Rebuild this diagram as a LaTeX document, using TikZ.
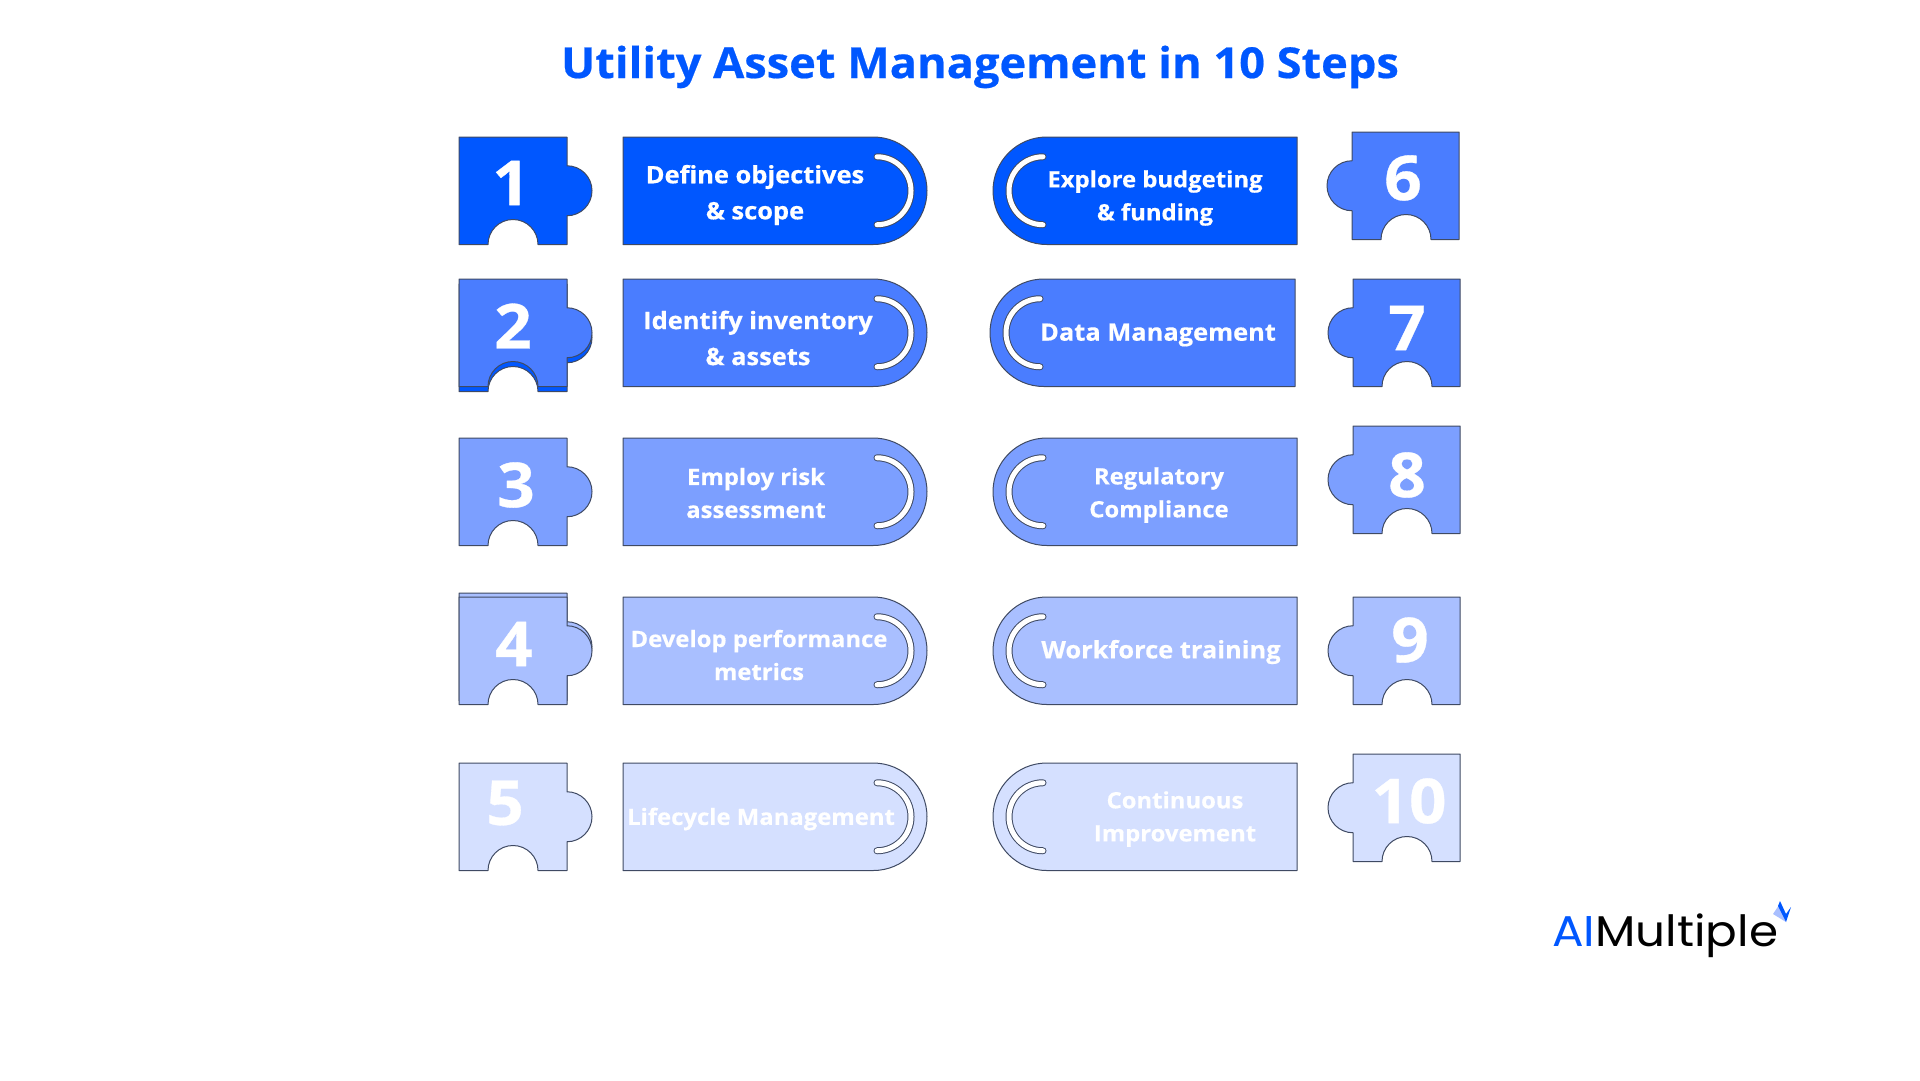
\documentclass[tikz,border=0pt]{standalone}
\usepackage{fontspec}
\setmainfont{Open Sans}[BoldFeatures={FakeStretch=1.06,FakeBold=0.5}]
\newfontfamily\logofont{Poppins}[FakeStretch=1.09]
\definecolor{stepa}{HTML}{0057FF}
\definecolor{stepb}{HTML}{4A7DFF}
\definecolor{stepc}{HTML}{7C9FFF}
\definecolor{stepd}{HTML}{A9BFFF}
\definecolor{stepe}{HTML}{D5E0FF}
\definecolor{edgegray}{HTML}{3F4A63}
\tikzset{
  piece/.style={draw=edgegray,line width=1pt,line join=round},
  steptext/.style={text=white,font=\bfseries\fontsize{22.5}{33}\selectfont,align=center,inner sep=0pt},
  steptextbig/.style={text=white,font=\bfseries\fontsize{24}{36}\selectfont,align=center,inner sep=0pt},
  stepnum/.style={text=white,font=\bfseries\fontsize{62}{62}\selectfont,inner sep=0pt},
}
% puzzle pieces: left edge, top edge, colour
\newcommand{\pieceright}[3]{
  \draw[piece,fill=#3] (#1,#2) -- ++(108,0) -- ++(0,28.75) arc (-90:90:25 and 25) -- (#1+108,#2+107.5)
    -- (#1+79,#2+107.5) arc (0:180:25 and -25) -- (#1,#2+107.5) -- cycle;
}
\newcommand{\pieceleft}[3]{
  \draw[piece,fill=#3] (#1,#2) -- ++(107,0) -- (#1+107,#2+107.5) -- (#1+79,#2+107.5)
    arc (0:180:25 and -25) -- (#1,#2+107.5) -- (#1,#2+78.75) arc (270:90:25 and -25) -- cycle;
}
% label bars: left edge, right edge, top edge, colour
\newcommand{\barright}[4]{
  \draw[piece,fill=#4] (#1,#3) -- (#2-53.75,#3) arc (90:-90:53.75 and -53.75) -- (#1,#3+107.5) -- cycle;
  \draw[edgegray,line width=7pt,line cap=round] (#2-50,#3+19.75) arc (90:-90:34 and -34);
  \draw[white,line width=5pt,line cap=round] (#2-50,#3+19.75) arc (90:-90:34 and -34);
}
\newcommand{\barleft}[4]{
  \draw[piece,fill=#4] (#2,#3) -- (#1+53.75,#3) arc (90:270:53.75 and -53.75) -- (#2,#3+107.5) -- cycle;
  \draw[edgegray,line width=7pt,line cap=round] (#1+50,#3+19.75) arc (90:270:34 and -34);
  \draw[white,line width=5pt,line cap=round] (#1+50,#3+19.75) arc (90:270:34 and -34);
}
\begin{document}
\begin{tikzpicture}[x=1pt,y=-1pt]
  \useasboundingbox (0,0) rectangle (1920,1080);
  \node[anchor=base,text=stepa,font=\bfseries\fontsize{42.6}{42.6}\selectfont,inner sep=0pt] (title) at (980,78) {Utility Asset Management in 10 Steps};
  % left column
  \pieceright{459}{137}{stepa}
  \pieceright{459}{284}{stepa}
  \pieceright{459}{279}{stepb}
  \pieceright{459}{438}{stepc}
  \pieceright{459}{593}{stepd}
  \pieceright{459}{597}{stepd}
  \pieceright{459}{763}{stepe}
  \barright{623}{927}{137}{stepa}
  \barright{623}{927}{279}{stepb}
  \barright{623}{927}{438}{stepc}
  \barright{623}{927}{597}{stepd}
  \barright{623}{927}{763}{stepe}
  \node[stepnum] (numa) at (511,183) {1};
  \node[stepnum] (numb) at (513,326) {2};
  \node[stepnum] (numc) at (516,485) {3};
  \node[stepnum] (numd) at (514,644) {4};
  \node[stepnum] (nume) at (505,803) {5};
  \node[steptextbig] (laba) at (755,195) {Define objectives\\\& scope};
  \node[steptextbig] (labb) at (758,338) {Identify inventory\\\& assets};
  \node[steptext] (labc) at (756,493) {Employ risk\\assessment};
  \node[steptext] (labd) at (759,655) {Develop performance\\metrics};
  \node[steptext] (labe) at (761,819) {Lifecycle Management};
  % right column
  \pieceleft{1352}{132}{stepb}
  \pieceleft{1353}{279}{stepb}
  \pieceleft{1353}{426}{stepc}
  \pieceleft{1353}{597}{stepd}
  \pieceleft{1353}{754}{stepe}
  \barleft{993}{1297}{137}{stepa}
  \barleft{990}{1295}{279}{stepb}
  \barleft{993}{1297}{438}{stepc}
  \barleft{993}{1297}{597}{stepd}
  \barleft{993}{1297}{763}{stepe}
  \node[stepnum] (numf) at (1403,178) {6};
  \node[stepnum] (numg) at (1407,328) {7};
  \node[stepnum] (numh) at (1407,475) {8};
  \node[stepnum] (numi) at (1410,640) {9};
  \node[stepnum] (numj) at (1409,801) {10};
  \node[steptext] (labf) at (1155,198) {Explore budgeting\\\& funding};
  \node[steptextbig] (labg) at (1158,335) {Data Management};
  \node[steptext] (labh) at (1159,495) {Regulatory\\Compliance};
  \node[steptextbig] (labi) at (1161,652) {Workforce training};
  \node[steptext] (labj) at (1175,819) {Continuous\\Improvement};
  % logo
  \node[anchor=base west,inner sep=0pt,font=\logofont\fontsize{43}{43}\selectfont] (logo) at (1552,946) {\textcolor{stepa}{AI}Multiple};
  \fill[stepd] (1773,914) -- (1779,905) -- (1786,922) -- cycle;
  \fill[stepa] (1780,901) -- (1786,914) -- (1791,907) -- (1786,922) -- (1778,906) -- cycle;
\end{tikzpicture}
\end{document}
